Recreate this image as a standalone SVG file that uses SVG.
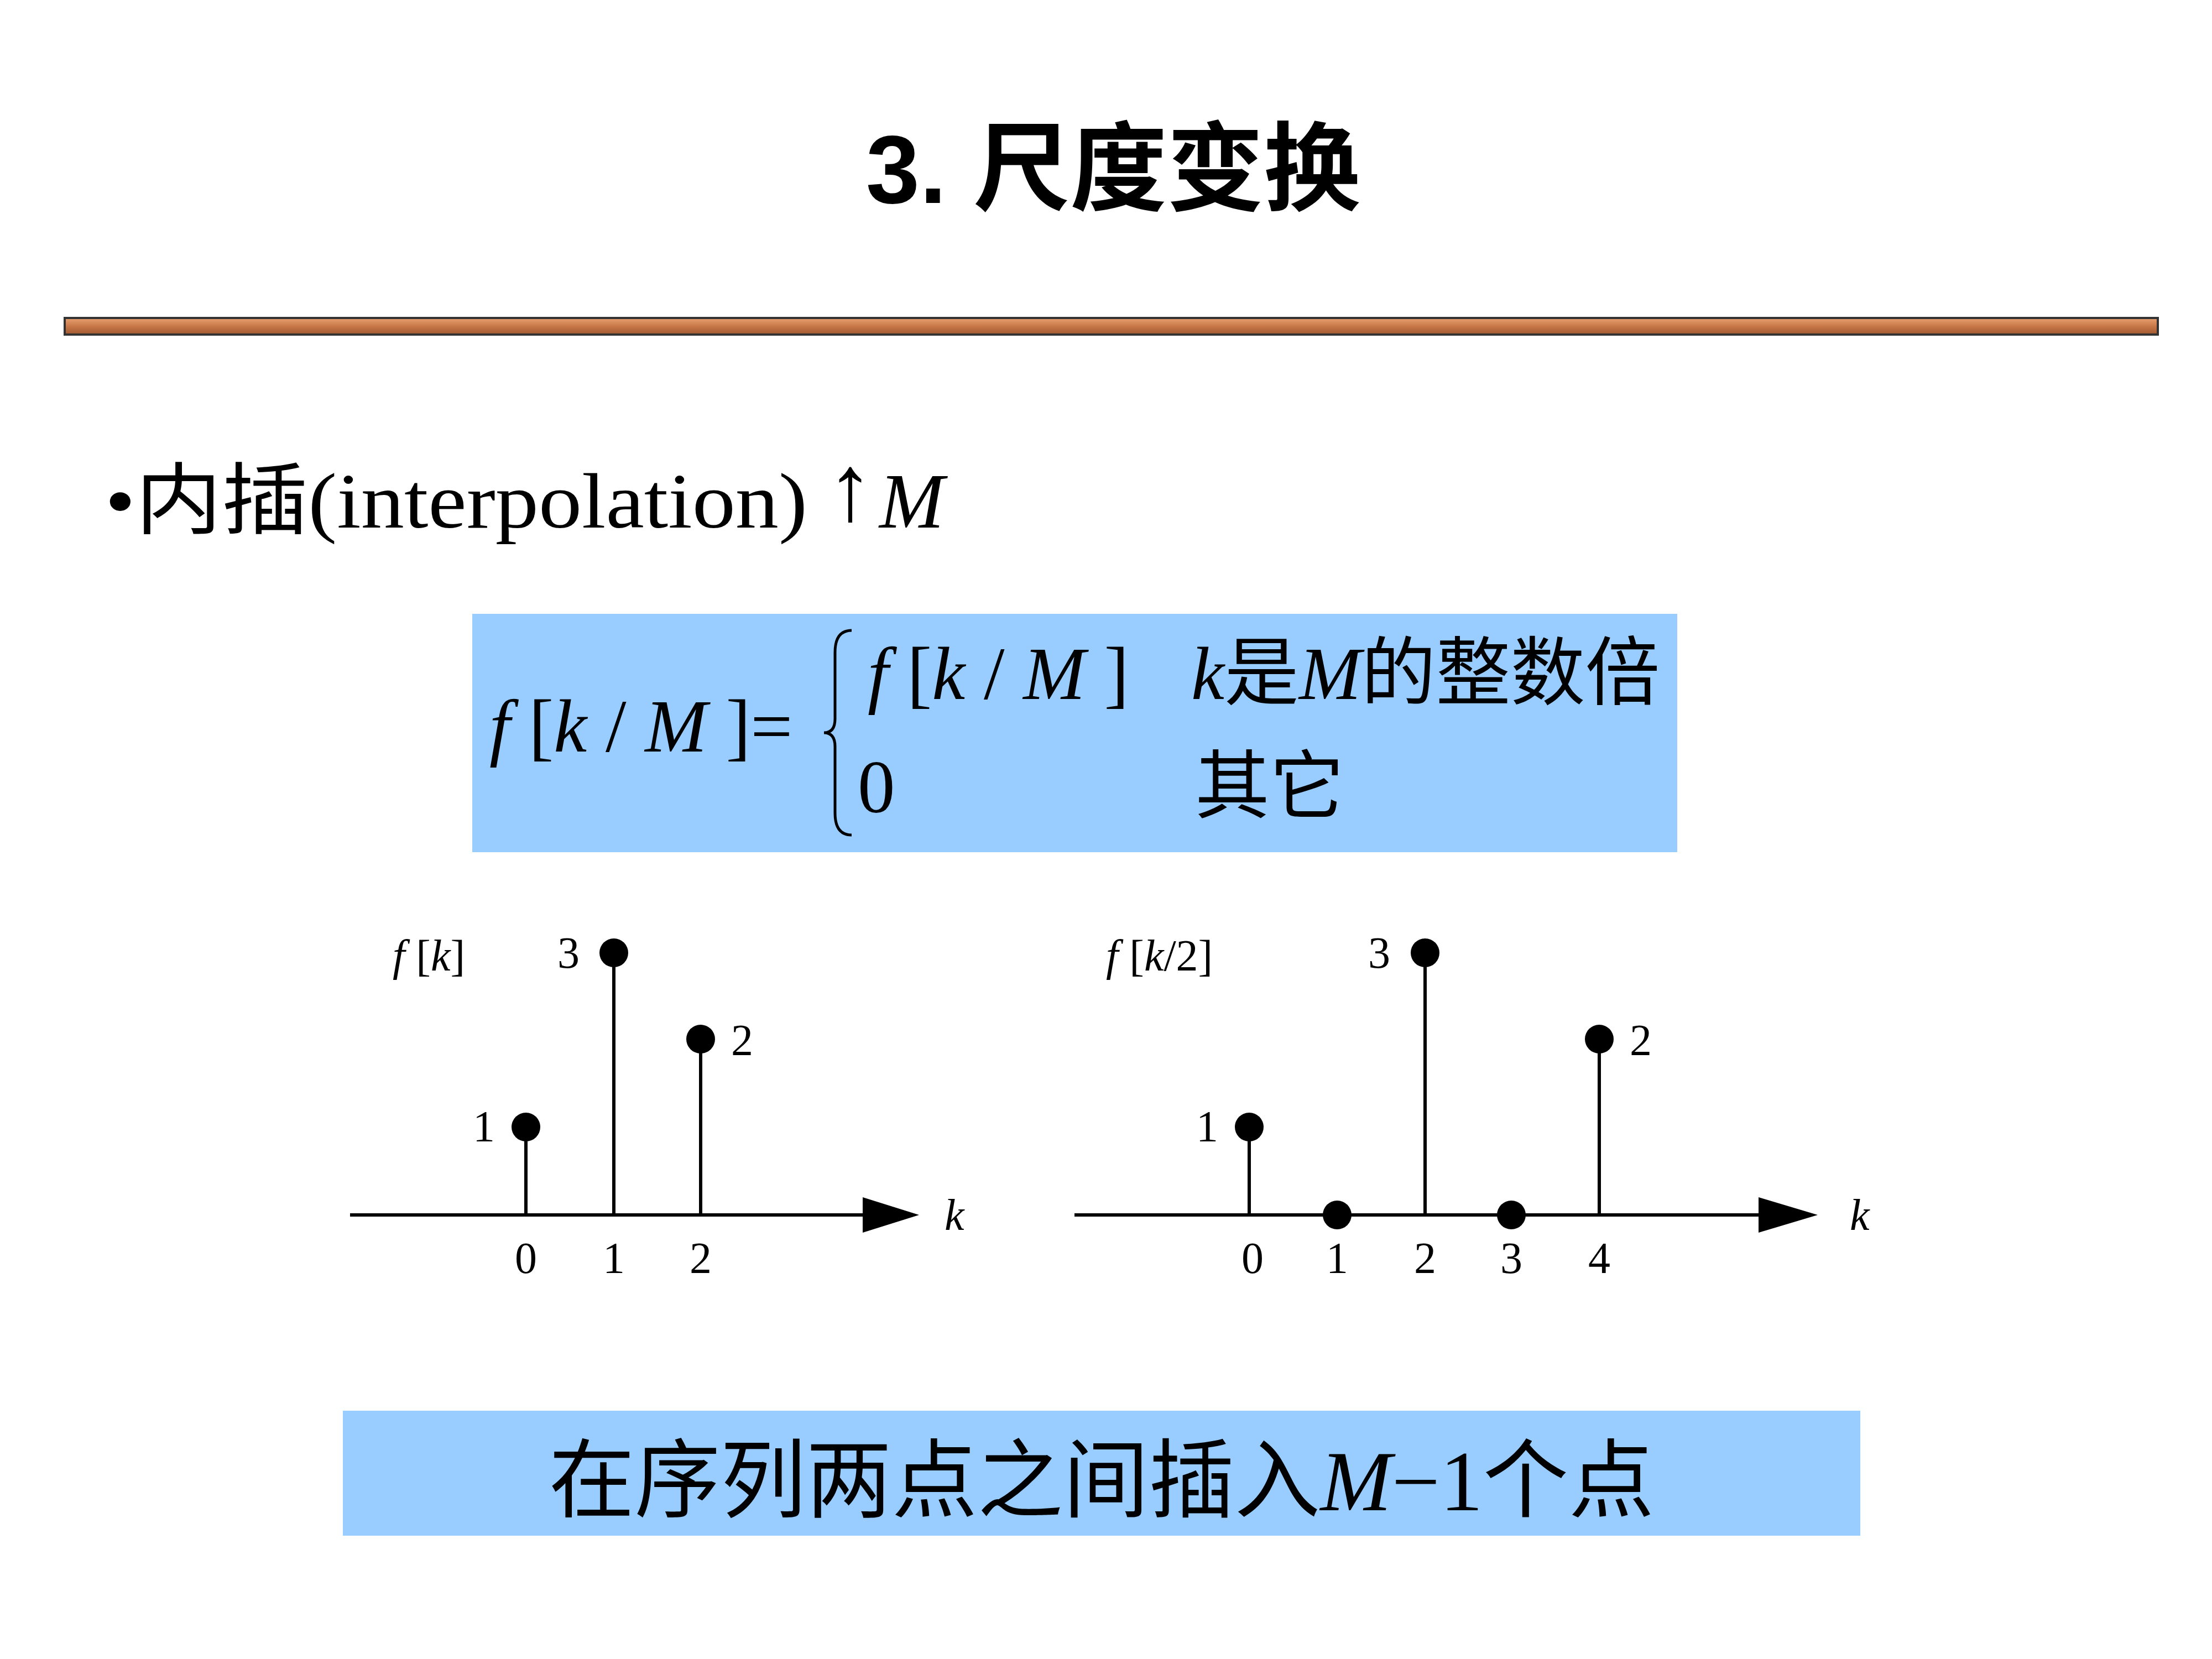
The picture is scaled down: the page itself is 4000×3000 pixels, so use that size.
<svg xmlns="http://www.w3.org/2000/svg" width="4000" height="3000" viewBox="0 0 4000 3000">
<defs>
<linearGradient id="bar" x1="0" y1="0" x2="0" y2="1"><stop offset="0" stop-color="#e8a070"/><stop offset="0.5" stop-color="#c87848"/><stop offset="1" stop-color="#a05830"/></linearGradient>
</defs>
<style>
.s{font-family:"Liberation Serif","Noto Sans CJK SC",serif;fill:#000}
.i{font-style:italic}
.ax{stroke:#000;stroke-width:6;fill:none}
.st{stroke:#000;stroke-width:6}
.lb{font-family:"Liberation Serif",serif;font-size:80px}
</style>
<rect width="4000" height="3000" fill="#fff"/>
<g id="title"><text x="2013" y="367" text-anchor="middle" font-family="Liberation Sans,'Noto Sans CJK SC',sans-serif" font-weight="bold" font-size="175">3. 尺度变换</text></g>
<g id="bar"><rect x="117" y="575" width="3785" height="30" fill="url(#bar)" stroke="#333" stroke-width="4"/></g>
<g id="bullet"><text class="s" x="190" y="954" font-size="141" textLength="1270" lengthAdjust="spacingAndGlyphs">•内插(interpolation)</text>
<text class="s" x="1495" y="940" font-size="170">↑</text><text class="s i" x="1590" y="954" font-size="141">M</text></g>
<g id="formula">
<rect x="854" y="1110" width="2179" height="431" fill="#99ccff"/>
<text class="s" x="885" y="1359" font-size="135"><tspan class="i">f</tspan> [<tspan class="i">k</tspan> / <tspan class="i">M</tspan> ]=</text>
<path d="M1540 1140 Q1510 1140 1510 1180 L1510 1300 Q1510 1325 1490 1325 Q1510 1325 1510 1350 L1510 1470 Q1510 1510 1540 1510" fill="none" stroke="#000" stroke-width="5"/>
<text class="s" x="1569" y="1264" font-size="135"><tspan class="i">f</tspan> [<tspan class="i">k</tspan> / <tspan class="i">M</tspan> ]</text>
<text class="s" x="2154" y="1264" font-size="135"><tspan class="i">k</tspan>是<tspan class="i">M</tspan>的整数倍</text>
<text class="s" x="1551" y="1469" font-size="135">0</text>
<text class="s" x="2161" y="1469" font-size="135">其它</text>
</g>
<g id="plot1">
<line class="ax" x1="633" y1="2197" x2="1565" y2="2197"/>
<polygon points="1560,2165 1662,2197 1560,2229" fill="#000"/>
<line class="st" x1="951" y1="2197" x2="951" y2="2038"/><circle cx="951" cy="2038" r="26"/>
<line class="st" x1="1110" y1="2197" x2="1110" y2="1723"/><circle cx="1110" cy="1723" r="26"/>
<line class="st" x1="1267" y1="2197" x2="1267" y2="1879"/><circle cx="1267" cy="1879" r="26"/>
<text class="s lb" x="855" y="2064">1</text><text class="s lb" x="1008" y="1750">3</text><text class="s lb" x="1322" y="1908">2</text>
<text class="s lb" x="951" y="2302" text-anchor="middle">0</text><text class="s lb" x="1110" y="2302" text-anchor="middle">1</text><text class="s lb" x="1267" y="2302" text-anchor="middle">2</text>
<text class="s lb i" x="1708" y="2224">k</text>
<text class="s lb" x="710" y="1755"><tspan class="i">f</tspan> [<tspan class="i">k</tspan>]</text>
</g>
<g id="plot2">
<line class="ax" x1="1943" y1="2197" x2="3185" y2="2197"/>
<polygon points="3180,2165 3287,2197 3180,2229" fill="#000"/>
<line class="st" x1="2259" y1="2197" x2="2259" y2="2038"/><circle cx="2259" cy="2038" r="26"/>
<circle cx="2418" cy="2197" r="26"/>
<line class="st" x1="2577" y1="2197" x2="2577" y2="1723"/><circle cx="2577" cy="1723" r="26"/>
<circle cx="2733" cy="2197" r="26"/>
<line class="st" x1="2892" y1="2197" x2="2892" y2="1879"/><circle cx="2892" cy="1879" r="26"/>
<text class="s lb" x="2163" y="2064">1</text><text class="s lb" x="2474" y="1750">3</text><text class="s lb" x="2947" y="1908">2</text>
<text class="s lb" x="2265" y="2302" text-anchor="middle">0</text><text class="s lb" x="2418" y="2302" text-anchor="middle">1</text><text class="s lb" x="2577" y="2302" text-anchor="middle">2</text><text class="s lb" x="2733" y="2302" text-anchor="middle">3</text><text class="s lb" x="2892" y="2302" text-anchor="middle">4</text>
<text class="s lb i" x="3345" y="2224">k</text>
<text class="s lb" x="2000" y="1755"><tspan class="i">f</tspan> [<tspan class="i">k</tspan>/2]</text>
</g>
<g id="note">
<rect x="620" y="2551" width="2744" height="226" fill="#99ccff"/>
<text class="s" x="1992" y="2731" text-anchor="middle" font-size="155">在序列两点之间插入<tspan class="i">M</tspan>−1个点</text>
</g>
</svg>
